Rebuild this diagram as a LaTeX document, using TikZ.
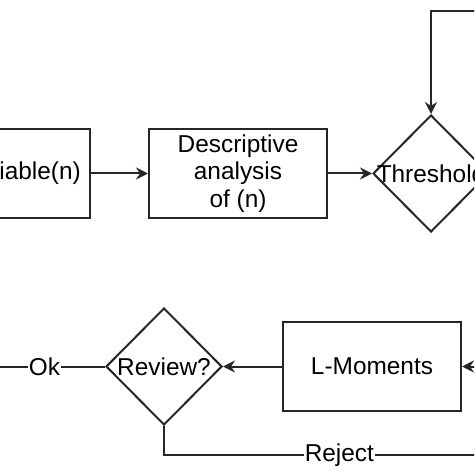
\documentclass[tikz,border=0pt]{standalone}
\usepackage{fontspec}
\setmainfont{Liberation Sans}
\usetikzlibrary{shapes.geometric,arrows.meta}
\begin{document}
\begin{tikzpicture}[x=0.5pt,y=-0.5pt,line width=1pt,
  ln/.style={draw=black!85},
  txt/.style={font=\fontsize{12.2}{13.8}\selectfont},
  box/.style={draw=black!85,rectangle,minimum width=89pt,minimum height=44.5pt,inner sep=0pt,align=center,txt},
  dia/.style={draw=black!85,diamond,minimum width=58pt,minimum height=58.5pt,inner sep=0pt},
  arr/.style={ln,-{Stealth[length=6pt,width=6pt,inset=2pt]}},
  elbl/.style={fill=white,inner sep=0.6pt,txt}]
\useasboundingbox (0,0) rectangle (474,474);
\fill[white] (0,0) rectangle (474,474);
\clip (0,0) rectangle (474,474);
% top row
\node[box,minimum width=68pt] (var) at (22,173.5) {Variable(n)};
\node[box] (desc) at (238,173.5) {Descriptive\\analysis\\of (n)};
\node[dia,label={[txt,inner sep=0pt]center:Threshold}] (thr) at (431,173.5) {};
\coordinate (topR) at (490,11);
\draw[arr] (var.east) -- (desc.west);
\draw[arr] (desc.east) -- (thr.west);
\draw[arr] (topR) -- (thr.north |- topR) -- (thr.north);
% bottom row
\node[box] (lm) at (372,366.5) {L-Moments};
\node[dia,label={[txt,inner sep=0pt]center:Review?}] (rev) at (164,366.5) {};
\coordinate (lmR) at (490,366.5);
\coordinate (okL) at (-5,366.5);
\coordinate (rejR) at (490,455);
\draw[arr] (lmR) -- (lm.east);
\draw[arr] (lm.west) -- (rev.east);
\draw[ln] (rev.west) -- node[elbl,pos=0.55] (ok) {Ok} (okL);
\draw[ln] (rev.south) -- (rev.south |- rejR) -- node[elbl,pos=0.538] (rej) {Reject} (rejR);
\end{tikzpicture}
\end{document}
